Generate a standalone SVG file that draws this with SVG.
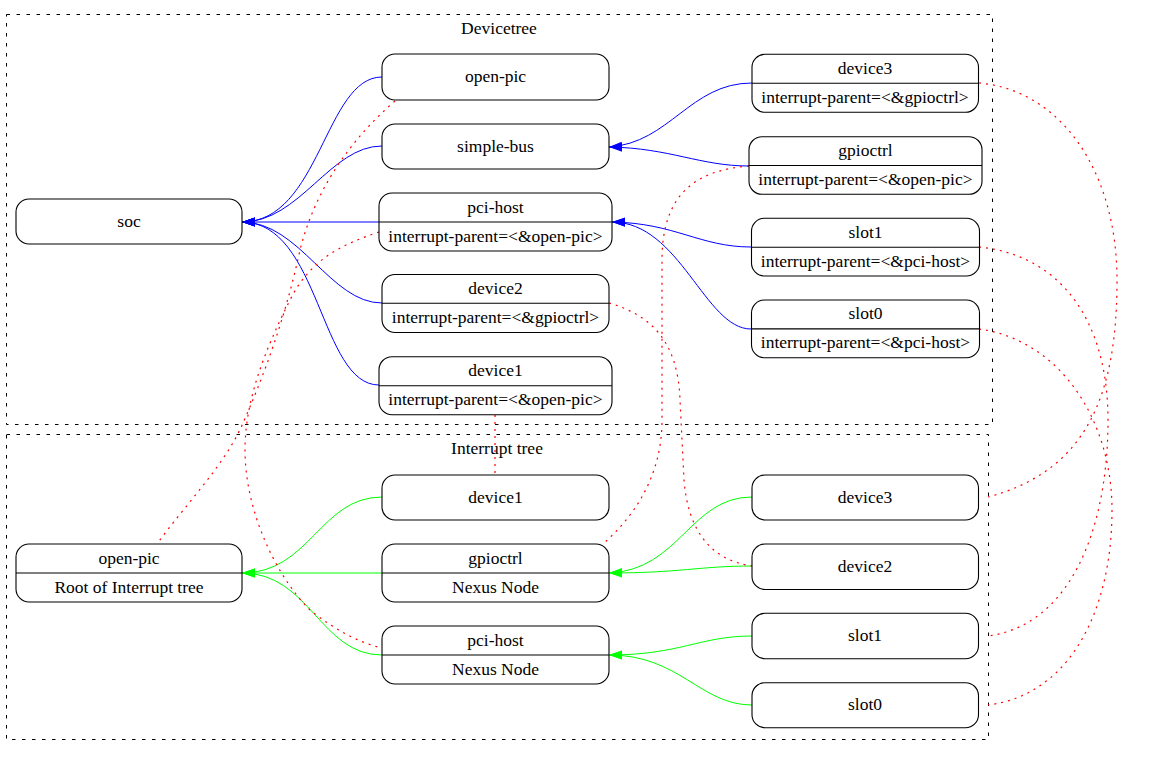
<svg xmlns="http://www.w3.org/2000/svg" width="1172" height="767" viewBox="0 0 1172 767">
<style>
text{font-family:"Liberation Serif","Times New Roman",serif;font-size:17.5px;fill:#000;text-anchor:middle}
.cl{fill:none;stroke:#000;stroke-width:1;stroke-dasharray:3.5,6.5}
.nd{fill:#fff;stroke:#000;stroke-width:1.1}
.dv{stroke:#000;stroke-width:1.1}
.b{fill:none;stroke:#0000ff;stroke-width:1;marker-end:url(#ab)}
.g{fill:none;stroke:#00ff00;stroke-width:1;marker-end:url(#ag)}
.r{fill:none;stroke:#ff0000;stroke-width:1.2;stroke-dasharray:2,5}
</style>
<defs>
<marker id="ab" markerUnits="userSpaceOnUse" markerWidth="13" markerHeight="10" refX="13" refY="5" orient="auto"><path d="M0,0.5 L13,5 L0,9.5 z" fill="#0000ff"/></marker>
<marker id="ag" markerUnits="userSpaceOnUse" markerWidth="13" markerHeight="10" refX="13" refY="5" orient="auto"><path d="M0,0.5 L13,5 L0,9.5 z" fill="#00ff00"/></marker>
</defs>
<rect width="1172" height="767" fill="#fff"/>
<g id="cluster_devicetree">
<rect class="cl" x="6.5" y="14.5" width="986" height="410"/>
<text x="499" y="33.5">Devicetree</text>
</g>
<g id="cluster_interrupt_tree">
<rect class="cl" x="6.5" y="434.5" width="982" height="305"/>
<text x="497" y="453.5">Interrupt tree</text>
</g>
<g id="connectors">
<path class="b" d="M382,77 C325,77 320,222 242,222"/>
<path class="b" d="M382,146 C330,146 300,222 242,222"/>
<path class="b" d="M379,222 L242,222"/>
<path class="b" d="M382,303 C330,303 300,222 242,222"/>
<path class="b" d="M379,385 C320,385 320,222 242,222"/>
<path class="b" d="M752,83 C690,83 670,143 609,147"/>
<path class="b" d="M749,166 C700,166 670,148 609,147"/>
<path class="b" d="M751,247 C700,247 675,223 612,222"/>
<path class="b" d="M751,329 C705,329 680,222 612,222"/>
<path class="g" d="M382,497 C320,497 310,573 242,573"/>
<path class="g" d="M382,573 L242,573"/>
<path class="g" d="M382,655 C320,655 310,573 242,573"/>
<path class="g" d="M752,497 C690,497 680,570 609,573"/>
<path class="g" d="M752,566 C700,566 680,573 609,573"/>
<path class="g" d="M752,636 C700,636 680,655 609,655"/>
<path class="g" d="M752,705 C700,705 680,655 609,655"/>
<path class="r" d="M395,101 C350,140 315,190 300,250 C285,320 262,380 243,423 C225,465 185,505 157,544"/>
<path class="r" d="M379,232 C340,245 310,260 290,300 C265,350 245,400 245,450 C245,510 275,575 310,610 C335,630 360,643 382,648"/>
<path class="r" d="M495,415 L495,475"/>
<path class="r" d="M749,166 C700,170 662,190 662,260 L662,420 C662,480 630,520 604,543"/>
<path class="r" d="M609,303 C650,315 678,340 680,400 L684,480 C688,530 710,560 752,566"/>
<path class="r" d="M979,83 C1060,90 1117,170 1117,280 C1117,390 1090,470 988,497"/>
<path class="r" d="M979,247 C1060,255 1108,320 1108,420 C1108,530 1070,625 988,636"/>
<path class="r" d="M979,329 C1060,340 1112,420 1112,510 C1112,610 1070,695 988,705"/>
</g>
<g id="dt_soc"><rect class="nd" x="16" y="199" width="226" height="45" rx="13"/><text x="129" y="226.5">soc</text></g>
<g id="dt_open_pic"><rect class="nd" x="382" y="54" width="227" height="46" rx="13"/><text x="495.5" y="82">open-pic</text></g>
<g id="dt_simple_bus"><rect class="nd" x="382" y="124" width="227" height="45" rx="13"/><text x="495.5" y="151.5">simple-bus</text></g>
<g id="dt_pci_host"><rect class="nd" x="379" y="193" width="233" height="58" rx="13"/><line class="dv" x1="379" y1="222" x2="612" y2="222"/><text x="495.5" y="212.5">pci-host</text><text x="495.5" y="241.5">interrupt-parent=&lt;&amp;open-pic&gt;</text></g>
<g id="dt_device2"><rect class="nd" x="382" y="274.5" width="227" height="58" rx="13"/><line class="dv" x1="382" y1="303.3" x2="609" y2="303.3"/><text x="495.5" y="293.8">device2</text><text x="495.5" y="323">interrupt-parent=&lt;&amp;gpioctrl&gt;</text></g>
<g id="dt_device1"><rect class="nd" x="379" y="356.7" width="233" height="58" rx="13"/><line class="dv" x1="379" y1="385.7" x2="612" y2="385.7"/><text x="495.5" y="376.2">device1</text><text x="495.5" y="405.2">interrupt-parent=&lt;&amp;open-pic&gt;</text></g>
<g id="dt_device3"><rect class="nd" x="752" y="54.3" width="226.5" height="58" rx="13"/><line class="dv" x1="752" y1="83.3" x2="978.5" y2="83.3"/><text x="865" y="73.8">device3</text><text x="865" y="102.8">interrupt-parent=&lt;&amp;gpioctrl&gt;</text></g>
<g id="dt_gpioctrl"><rect class="nd" x="749" y="136.7" width="233" height="57.6" rx="13"/><line class="dv" x1="749" y1="165.5" x2="982" y2="165.5"/><text x="865.5" y="156.1">gpioctrl</text><text x="865.5" y="184.9">interrupt-parent=&lt;&amp;open-pic&gt;</text></g>
<g id="dt_slot1"><rect class="nd" x="751.5" y="218.3" width="228" height="57.7" rx="13"/><line class="dv" x1="751.5" y1="247.2" x2="979.5" y2="247.2"/><text x="865.5" y="237.7">slot1</text><text x="865.5" y="266.6">interrupt-parent=&lt;&amp;pci-host&gt;</text></g>
<g id="dt_slot0"><rect class="nd" x="751.5" y="300" width="228" height="57.7" rx="13"/><line class="dv" x1="751.5" y1="328.9" x2="979.5" y2="328.9"/><text x="865.5" y="319.4">slot0</text><text x="865.5" y="348.3">interrupt-parent=&lt;&amp;pci-host&gt;</text></g>
<g id="it_open_pic"><rect class="nd" x="16" y="544" width="226" height="58" rx="13"/><line class="dv" x1="16" y1="573" x2="242" y2="573"/><text x="129" y="563.5">open-pic</text><text x="129" y="592.5">Root of Interrupt tree</text></g>
<g id="it_device1"><rect class="nd" x="382" y="475" width="227" height="45" rx="13"/><text x="495.5" y="502.5">device1</text></g>
<g id="it_gpioctrl"><rect class="nd" x="382" y="544" width="227" height="58" rx="13"/><line class="dv" x1="382" y1="573" x2="609" y2="573"/><text x="495.5" y="563.5">gpioctrl</text><text x="495.5" y="592.5">Nexus Node</text></g>
<g id="it_pci_host"><rect class="nd" x="382" y="626" width="227" height="58" rx="13"/><line class="dv" x1="382" y1="655" x2="609" y2="655"/><text x="495.5" y="645.5">pci-host</text><text x="495.5" y="674.5">Nexus Node</text></g>
<g id="it_device3"><rect class="nd" x="752" y="475" width="226.5" height="45" rx="13"/><text x="865" y="502.5">device3</text></g>
<g id="it_device2"><rect class="nd" x="752" y="544" width="226.5" height="45.5" rx="13"/><text x="865" y="571.7">device2</text></g>
<g id="it_slot1"><rect class="nd" x="752" y="613.3" width="226.5" height="45.4" rx="13"/><text x="865" y="641">slot1</text></g>
<g id="it_slot0"><rect class="nd" x="752" y="682.7" width="226.5" height="45" rx="13"/><text x="865" y="710.2">slot0</text></g>
</svg>
